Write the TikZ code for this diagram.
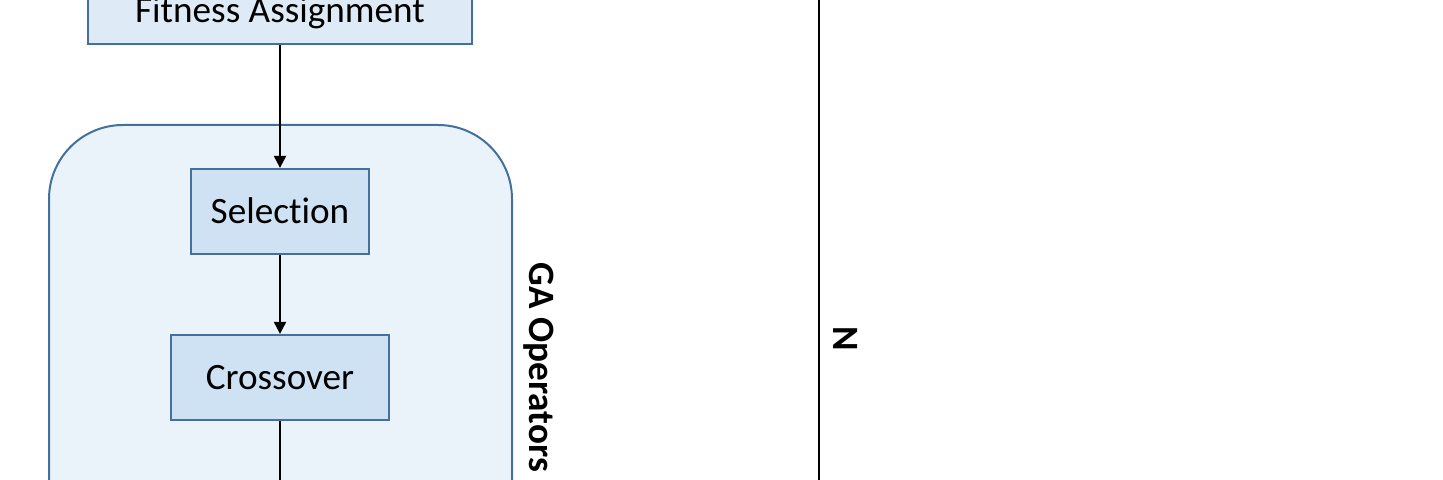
\documentclass[tikz,border=0pt]{standalone}
\usepackage{fontspec}
\setmainfont{Carlito}[Ligatures=NoCommon]
\usetikzlibrary{arrows.meta}

\definecolor{boxline}{HTML}{41719C}
\definecolor{boxfill}{HTML}{CFE2F3}
\definecolor{topfill}{HTML}{DEEBF7}
\definecolor{groupfill}{HTML}{EBF3FA}

\tikzset{
  opbox/.style={draw=boxline,line width=1.1pt,fill=boxfill,inner sep=0pt,
    text height=12pt,text depth=0pt,font=\fontsize{18.6}{22}\selectfont},
  flow/.style={line width=1pt,-{Triangle[length=6pt,width=6pt]}},
  sidelabel/.style={rotate=-90,inner sep=0pt,text height=12pt,text depth=0pt,
    font=\fontsize{18.6}{22}\selectfont\bfseries}
}

\begin{document}
\begin{tikzpicture}[x=0.5pt,y=-0.5pt]
\clip (0,0) rectangle (1443,480);
% group of operators
\draw[draw=boxline,line width=1pt,fill=groupfill,rounded corners=37pt] (49,125) rectangle (512,640);
\node[sidelabel] (galabel) at (541.5,367.5) {GA Operators};

\node[opbox,fill=topfill,minimum width=192pt,minimum height=33.5pt] (fitness) at (280,10.5) {Fitness Assignment};
\node[opbox,minimum width=89pt,minimum height=42.5pt] (selection) at (280,211.5) {Selection};
\node[opbox,minimum width=109pt,minimum height=42.5pt] (crossover) at (280,377.5) {Crossover};
\coordinate (belowcross) at (280,560);

\draw[flow] (fitness) -- (selection);
\draw[flow] (selection) -- (crossover);
\draw[line width=1pt] (crossover) -- (belowcross);

% loop back line
\coordinate (looptop) at (819,-40);
\coordinate (loopbottom) at (819,560);
\draw[line width=1.2pt] (looptop) -- (loopbottom);
\node[sidelabel] (nlabel) at (845,339) {N};
\end{tikzpicture}
\end{document}
